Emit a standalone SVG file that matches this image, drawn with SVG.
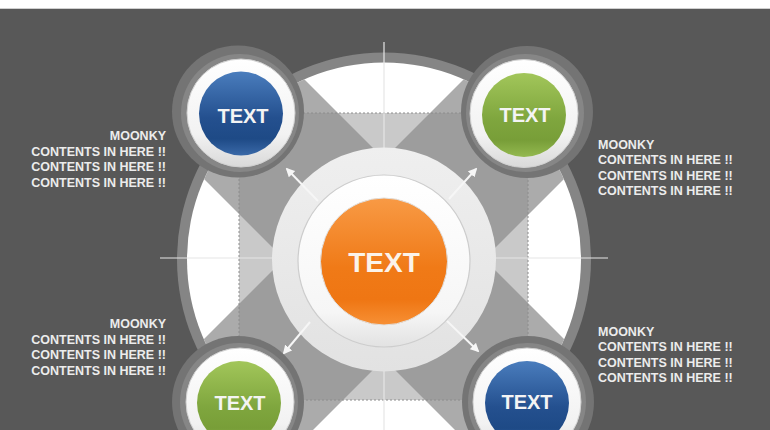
<svg xmlns="http://www.w3.org/2000/svg" width="770" height="430" viewBox="0 0 770 430">
<style>
.side{font-family:"Liberation Sans",Arial,sans-serif;font-weight:bold;font-size:12.5px;fill:#ececec}
.lab{font-family:"Liberation Sans",Arial,sans-serif;font-weight:bold;font-size:20px;fill:#f4f4f4;text-anchor:middle}
.big{font-family:"Liberation Sans",Arial,sans-serif;font-weight:bold;font-size:28px;fill:#fbf3ea;text-anchor:middle}
.cross{stroke:#e6e6e6;stroke-width:1.2}
.arr{stroke:#f6f6f6;stroke-width:2;fill:none;marker-end:url(#ah)}
.nodeOuter{fill:#747474}
.nodeMid{fill:#868686}
.nodeWhite{fill:url(#gWhite);stroke:#d0d0d0;stroke-width:1}
</style>
<defs>
<marker id="ah" viewBox="0 0 10 10" refX="8" refY="5" markerWidth="4.5" markerHeight="4.5" orient="auto" markerUnits="strokeWidth">
<path d="M0,0 L10,5 L0,10 Z" fill="#f6f6f6"/>
</marker>
<clipPath id="cWhite"><circle cx="384" cy="259.5" r="197"/></clipPath>
<clipPath id="cBox"><rect x="239" y="113" width="289" height="287"/></clipPath>
<linearGradient id="gWhite" x1="0" y1="0" x2="0" y2="1">
<stop offset="0" stop-color="#ffffff"/><stop offset="0.7" stop-color="#f2f2f2"/><stop offset="1" stop-color="#d9d9d9"/>
</linearGradient>
<linearGradient id="gBlue" x1="0" y1="0" x2="0" y2="1">
<stop offset="0" stop-color="#4a7dbd"/><stop offset="0.55" stop-color="#24508f"/><stop offset="0.8" stop-color="#1e4a86"/><stop offset="1" stop-color="#3a69a8"/>
</linearGradient>
<linearGradient id="gGreen" x1="0" y1="0" x2="0" y2="1">
<stop offset="0" stop-color="#a2c65a"/><stop offset="0.55" stop-color="#7fa63e"/><stop offset="0.8" stop-color="#789e38"/><stop offset="1" stop-color="#94b950"/>
</linearGradient>
<linearGradient id="gOrange" x1="0" y1="0" x2="0" y2="1">
<stop offset="0" stop-color="#f89a45"/><stop offset="0.55" stop-color="#f07a17"/><stop offset="0.8" stop-color="#ef7613"/><stop offset="1" stop-color="#f79035"/>
</linearGradient>
<linearGradient id="gRing" x1="0" y1="0" x2="0" y2="1">
<stop offset="0" stop-color="#efefef"/><stop offset="1" stop-color="#e2e2e2"/>
</linearGradient>
<linearGradient id="gInner" x1="0" y1="0" x2="0" y2="1">
<stop offset="0" stop-color="#ffffff"/><stop offset="0.8" stop-color="#f6f6f6"/><stop offset="1" stop-color="#e2e2e2"/>
</linearGradient>
</defs>

<rect x="0" y="0" width="770" height="430" fill="#585858"/>
<rect x="0" y="0" width="770" height="8" fill="#ffffff"/>
<rect x="0" y="8" width="770" height="1" fill="#cfcfcf"/>

<g id="backdrop">
<circle cx="384" cy="259.5" r="207" fill="#858585"/>
<circle cx="384" cy="259.5" r="197" fill="#ffffff"/>
<g clip-path="url(#cWhite)" fill="#ababab">
<polygon points="150,-75 620,395 620,595 150,125"/>
<polygon points="150,393 620,-77 620,123 150,593"/>
</g>
<rect x="239" y="113" width="289" height="287" fill="#c9c9c9"/>
<g clip-path="url(#cBox)" fill="#9d9d9d">
<polygon points="150,-75 620,395 620,595 150,125"/>
<polygon points="150,393 620,-77 620,123 150,593"/>
</g>
<rect x="239" y="113" width="289" height="287" fill="none" stroke="#8c8c8c" stroke-width="1" stroke-dasharray="2,2"/>
</g>

<g id="connectors">
<line class="cross" x1="160" y1="258" x2="608" y2="258"/>
<line class="cross" x1="384" y1="42" x2="384" y2="430"/>
</g>

<g id="center">
<circle cx="384" cy="259.5" r="112" fill="url(#gRing)"/>
<circle cx="384" cy="261" r="86" fill="url(#gInner)" stroke="#cdcdcd" stroke-width="1.2"/>
<circle cx="384" cy="261.5" r="63.5" fill="url(#gOrange)" stroke="#e0e0e0" stroke-width="1"/>
<text class="big" x="384" y="272">TEXT</text>
</g>

<g id="arrows">
<line class="arr" x1="318" y1="201" x2="287" y2="169"/>
<line class="arr" x1="449" y1="199" x2="476" y2="169"/>
<line class="arr" x1="310" y1="322" x2="284" y2="353"/>
<line class="arr" x1="447" y1="321" x2="478" y2="351"/>
</g>

<g id="node-tl">
<circle class="nodeOuter" cx="238" cy="111.5" r="66"/>
<circle class="nodeMid" cx="240" cy="113" r="59"/>
<circle class="nodeWhite" cx="241" cy="113" r="54"/>
<circle cx="241" cy="113.5" r="42" fill="url(#gBlue)"/>
<text class="lab" x="243" y="122.5">TEXT</text>
</g>

<g id="node-tr">
<circle class="nodeOuter" cx="527" cy="112" r="66"/>
<circle class="nodeMid" cx="525" cy="113" r="59"/>
<circle class="nodeWhite" cx="524" cy="113.5" r="54"/>
<circle cx="524" cy="115" r="42" fill="url(#gGreen)"/>
<text class="lab" x="525" y="122">TEXT</text>
</g>

<g id="node-bl">
<circle class="nodeOuter" cx="238" cy="402" r="66"/>
<circle class="nodeMid" cx="239" cy="402" r="59"/>
<circle class="nodeWhite" cx="240" cy="402" r="54"/>
<circle cx="239" cy="403" r="42" fill="url(#gGreen)"/>
<text class="lab" x="240" y="409.5">TEXT</text>
</g>

<g id="node-br">
<circle class="nodeOuter" cx="528" cy="402" r="66"/>
<circle class="nodeMid" cx="527" cy="402" r="59"/>
<circle class="nodeWhite" cx="527" cy="402" r="54"/>
<circle cx="527" cy="403" r="42" fill="url(#gBlue)"/>
<text class="lab" x="527" y="409">TEXT</text>
</g>

<g id="text-tl" class="side" text-anchor="end">
<text x="166" y="140">MOONKY</text>
<text x="166" y="155.5">CONTENTS IN HERE !!</text>
<text x="166" y="171">CONTENTS IN HERE !!</text>
<text x="166" y="186.5">CONTENTS IN HERE !!</text>
</g>
<g id="text-tr" class="side">
<text x="598" y="148.5">MOONKY</text>
<text x="598" y="164">CONTENTS IN HERE !!</text>
<text x="598" y="179.5">CONTENTS IN HERE !!</text>
<text x="598" y="195">CONTENTS IN HERE !!</text>
</g>
<g id="text-bl" class="side" text-anchor="end">
<text x="166" y="328">MOONKY</text>
<text x="166" y="343.5">CONTENTS IN HERE !!</text>
<text x="166" y="359">CONTENTS IN HERE !!</text>
<text x="166" y="374.5">CONTENTS IN HERE !!</text>
</g>
<g id="text-br" class="side">
<text x="598" y="335.5">MOONKY</text>
<text x="598" y="351">CONTENTS IN HERE !!</text>
<text x="598" y="366.5">CONTENTS IN HERE !!</text>
<text x="598" y="382">CONTENTS IN HERE !!</text>
</g>
</svg>
